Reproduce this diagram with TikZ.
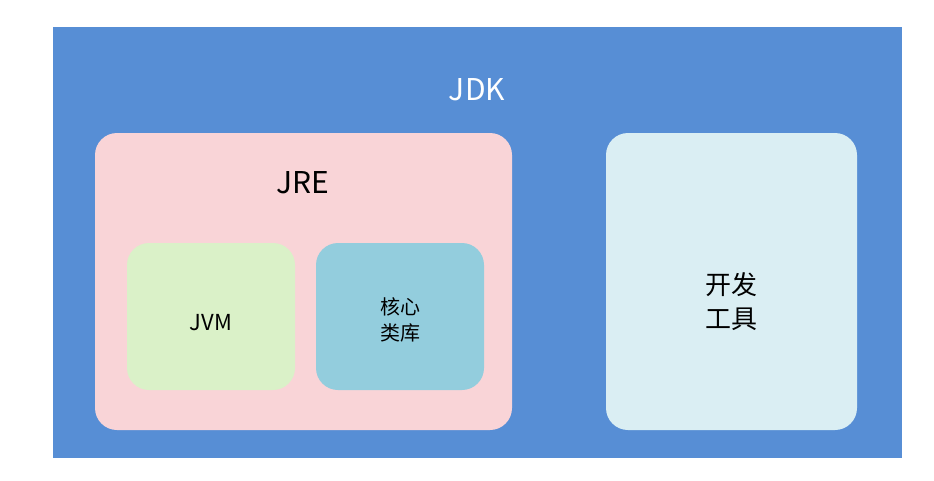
\documentclass[tikz,border=0pt]{standalone}
\usepackage{fontspec}
\setmainfont{Noto Sans CJK SC}
\definecolor{jdk}{HTML}{578ED5}
\definecolor{jre}{HTML}{F9D4D7}
\definecolor{jvm}{HTML}{DAF1C8}
\definecolor{lib}{HTML}{93CDDD}
\definecolor{tool}{HTML}{DAEEF3}
\begin{document}
\begin{tikzpicture}[x=1pt,y=-1pt,
  box/.style={rounded corners=22pt,draw=none}]
\useasboundingbox (0,0) rectangle (934,480);
\fill[white] (0,0) rectangle (934,480);
\fill[jdk] (53,27) rectangle (902,458);
\node[text=white,font=\fontsize{30}{34}\selectfont] (jdkt) at (477,90) {JDK};
\fill[jre,box] (95,133) rectangle (512,430);
\node[font=\fontsize{30}{34}\selectfont] (jret) at (303,183) {JRE};
\fill[jvm,box] (127,243) rectangle (295,390);
\node[font=\fontsize{22}{26}\selectfont] (jvmt) at (211,323) {JVM};
\fill[lib,box] (316,243) rectangle (484,390);
\node[font=\fontsize{20}{26}\selectfont,align=center] (libt) at (400,320) {核心\\类库};
\fill[tool,box] (606,133) rectangle (857,430);
\node[font=\fontsize{26}{34}\selectfont,align=center] (toolt) at (731,302) {开发\\工具};
\end{tikzpicture}
\end{document}
